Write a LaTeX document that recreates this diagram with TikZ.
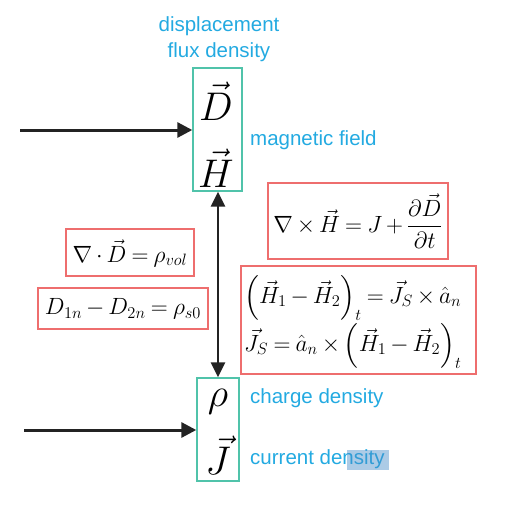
\RequirePackage{fix-cm}
\documentclass[tikz,border=0pt]{standalone}
\usepackage{amsmath}
\usepackage{fontspec}
\setmainfont{Liberation Serif}
\newfontfamily\labfont{Liberation Sans}
\usetikzlibrary{arrows.meta}
\definecolor{labcyan}{RGB}{35,170,225}
\definecolor{tealbox}{RGB}{80,195,170}
\definecolor{redbox}{RGB}{238,110,110}
\definecolor{arrowdark}{RGB}{35,35,35}
\definecolor{hilite}{RGB}{70,140,200}
\newcommand{\tightmath}{\thickmuskip=4mu plus 2mu\medmuskip=3mu plus 1mu}
\tikzset{
  varbox/.style={draw=tealbox, line width=1.4pt, inner sep=0pt},
  eqbox/.style={draw=redbox, line width=1.2pt, inner sep=0pt},
  eqtext/.style={inner sep=0pt, font=\fontsize{23.5}{28}\selectfont\tightmath},
  bigsym/.style={inner sep=0pt, font=\fontsize{40}{44}\selectfont},
  lab/.style={text=labcyan, inner sep=0pt, font=\labfont\fontsize{20.5}{26}\selectfont},
  feed/.style={draw=arrowdark, line width=3pt, -{Triangle[length=15pt,width=15pt]}},
  link/.style={draw=arrowdark, line width=2.8pt, {Triangle[length=15pt,width=14pt]}-{Triangle[length=15pt,width=14pt]}}
}
\begin{document}
\begin{tikzpicture}[x=1pt,y=-1pt]
\useasboundingbox (0,0) rectangle (507,506);
% top variable box
\node[varbox, minimum width=49pt, minimum height=123pt] (topbox) at (217.5,129.5) {};
\node[bigsym] (D) at (216,101) {$\vec{D}$};
\node[bigsym] (H) at (216,168) {$\vec{H}$};
% bottom variable box
\node[varbox, minimum width=42pt, minimum height=103pt] (botbox) at (218,429.5) {};
\node[bigsym] (rho) at (218,402) {$\rho$};
\node[bigsym] (J) at (218,455) {$\vec{J}$};
% labels
\node[lab, align=center] (disp) at (219,39) {displacement\\flux density};
\node[lab, anchor=west] (mag) at (250,140) {magnetic field};
\node[lab, anchor=west] (chg) at (250,398) {charge density};
\node[lab, anchor=west] (cur) at (250,459) {current density};
\fill[fill=hilite, fill opacity=0.45] (347,450) rectangle (389,470);
% arrows
\coordinate (in1) at (20,130);
\coordinate (in2) at (24,430);
\draw[feed] (in1) -- (in1 -| topbox.west);
\draw[feed] (in2) -- (in2 -| botbox.west);
\draw[link] (botbox.north |- topbox.south) -- (botbox.north);
% equation boxes
\node[eqbox, minimum width=180pt, minimum height=76pt] (curl) at (358,221) {};
\node[eqtext] (curleq) at (358,221)
  {$\nabla\times\vec{H}=J+\dfrac{\partial\vec{D}}{\partial t}$};
\node[eqbox, minimum width=128pt, minimum height=47pt] (div) at (130,252.5) {};
\node[eqtext] (diveq) at (130,253)
  {$\nabla\cdot\vec{D}=\rho_{vol}$};
\node[eqbox, minimum width=170pt, minimum height=41pt] (dbnd) at (123,308.5) {};
\node[eqtext] (dbndeq) at (123,309)
  {$D_{1n}-D_{2n}=\rho_{s0}$};
\node[eqbox, minimum width=235pt, minimum height=108pt] (hbnd) at (358.5,320) {};
\node[eqtext, anchor=west] (hbndeq1) at (244,298)
  {$\left(\vec{H}_1-\vec{H}_2\right)_t=\vec{J}_S\times\hat{a}_n$};
\node[eqtext, anchor=west] (hbndeq2) at (244,346)
  {$\vec{J}_S=\hat{a}_n\times\left(\vec{H}_1-\vec{H}_2\right)_t$};
\end{tikzpicture}
\end{document}
